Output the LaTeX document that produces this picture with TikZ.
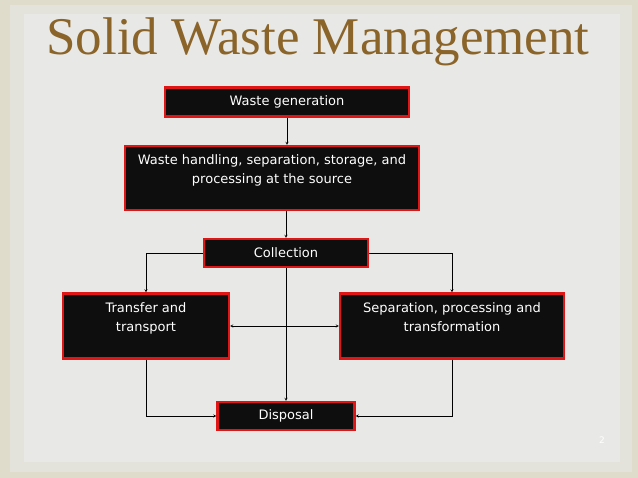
\documentclass[tikz,border=0pt]{standalone}
\usepackage{fontspec}
\usepackage{tikz}
\newfontfamily\boxfont{DejaVu Sans}
\newfontfamily\titlefont{Liberation Serif}
\definecolor{slidebeige}{RGB}{223,220,204}
\definecolor{slidemid}{RGB}{228,227,219}
\definecolor{slidegray}{RGB}{232,232,230}
\definecolor{titlebrown}{RGB}{139,100,42}
\definecolor{boxred}{RGB}{224,22,22}
\definecolor{boxblack}{RGB}{14,14,14}

\begin{document}
\begin{tikzpicture}[x=1pt,y=-1pt]
    \tikzstyle{every node} = [font=\boxfont\fontsize{13}{19}\selectfont]
    \tikzstyle{block} = [draw=boxred, line width=2.2pt, fill=boxblack, text=white, inner sep=0pt, align=center]
    % slide background
    \fill[slidebeige] (0,0) rectangle (638,478);
    \fill[slidemid] (10,5) rectangle (632,472);
    \fill[slidegray] (24,14) rectangle (620,462);
    \node[font=\titlefont\fontsize{53}{58}\selectfont, text=titlebrown, anchor=base] (title) at (318,55) {Solid Waste Management};
    \node[font=\boxfont\fontsize{9}{10}\selectfont, text=white] (pageNumber) at (602,440) {2};

    % place nodes
    \node[block, minimum width=244, minimum height=29](wasteGeneration) at (287,102){Waste generation};
    \node[block, minimum width=294, minimum height=64](wasteHandling) at (272,178){Waste handling, separation, storage, and\\processing at the source\\[-2pt]~};
    \node[block, minimum width=164, minimum height=28](collection) at (286,253){Collection};
    \node[block, minimum width=166, minimum height=65](transferTransport) at (146,326){Transfer and\\transport\\[-2pt]~};
    \node[block, minimum width=224, minimum height=65](separationProcessing) at (452,326){Separation, processing and\\transformation\\[-2pt]~};
    \node[block, minimum width=137, minimum height=28](disposal) at (286,416){Disposal};

    % Connections
    \draw[-stealth]
    (wasteGeneration.south)--(wasteGeneration.south |- wasteHandling.north);
    \draw[-stealth]
    (collection.north |- wasteHandling.south)--(collection.north);
    \draw[-stealth]
    (collection.west)-|(transferTransport.north);
    \draw[-stealth]
    (collection.east)-|(separationProcessing.north);
    \draw[-stealth]
    (collection.south)--(disposal.north);
    \draw[stealth-stealth]
    (transferTransport.east)--(separationProcessing.west);
    \draw[-stealth]
    (transferTransport.south)|-(disposal.west);
    \draw[-stealth]
    (separationProcessing.south)|-(disposal.east);

\end{tikzpicture}
\end{document}
